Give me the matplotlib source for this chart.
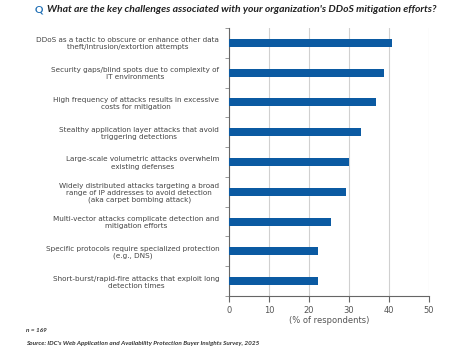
import matplotlib.pyplot as plt
import numpy as np

# Données
categories = [
    "DDoS as a tactic to obscure or enhance other data\ntheft/intrusion/extortion attempts",
    "Security gaps/blind spots due to complexity of\nIT environments",
    "High frequency of attacks results in excessive\ncosts for mitigation",
    "Stealthy application layer attacks that avoid\ntriggering detections",
    "Large-scale volumetric attacks overwhelm\nexisting defenses",
    "Widely distributed attacks targeting a broad\nrange of IP addresses to avoid detection\n(aka carpet bombing attack)",
    "Multi-vector attacks complicate detection and\nmitigation efforts",
    "Specific protocols require specialized protection\n(e.g., DNS)",
    "Short-burst/rapid-fire attacks that exploit long\ndetection times",
]
valeurs = [40.7, 38.8, 36.7, 32.9, 29.9, 29.2, 25.6, 22.3, 22.2]
xticks = [0, 10, 20, 30, 40, 50]

bleu = "#0b5aa2"
gris = "#555555"

fig = plt.figure(figsize=(4.74, 3.55), dpi=100)
ax = fig.add_axes([229 / 474, 1 - 296 / 355, 200 / 474, 268 / 355])

y = np.arange(len(categories))
ax.barh(y, valeurs, height=0.27, color=bleu, zorder=3)

ax.set_xlim(0, 50)
ax.set_ylim(len(categories) - 0.5, -0.5)
ax.set_xticks(xticks)
ax.set_xticklabels([str(t) for t in xticks], fontsize=6, color=gris)
ax.set_yticks(y)
ax.set_yticklabels(categories, fontsize=5.2, color="#444444", ha="right",
                   multialignment="center")
ax.set_yticks(np.arange(-0.5, len(categories), 1), minor=True)
ax.tick_params(axis="y", which="major", length=0, pad=7)
ax.tick_params(axis="y", which="minor", length=3, color="#888888", width=0.6)
ax.tick_params(axis="x", length=4, color="#666666", width=0.8, pad=3)
ax.set_xlabel("(% of respondents)", fontsize=6, color=gris, labelpad=1)

ax.grid(axis="x", color="#d0d0d0", linewidth=0.8, zorder=0)
for s in ["top", "right"]:
    ax.spines[s].set_visible(False)
ax.spines["left"].set_color("#666666")
ax.spines["bottom"].set_color("#666666")
ax.spines["left"].set_linewidth(0.8)
ax.spines["bottom"].set_linewidth(0.8)

# Titre
fig.text(35 / 474, 1 - 10 / 355, "Q", fontsize=7.5, color="#1f6fb5",
         family="Lato", fontweight="bold", va="center", ha="left")
fig.text(47 / 474, 1 - 10 / 355,
         "What are the key challenges associated with your organization's DDoS mitigation efforts?",
         fontsize=7.5, color="#222222", family="Lato", fontweight="bold", style="italic",
         va="center", ha="left")

# Notes
fig.text(26 / 474, 1 - 331 / 355, "n = 169", fontsize=4.6, style="italic",
         family="Lato", fontweight="bold", color="#333333", va="center")
fig.text(26 / 474, 1 - 344 / 355,
         "Source: IDC's Web Application and Availability Protection Buyer Insights Survey, 2025",
         fontsize=4.6, style="italic", family="Lato", fontweight="bold",
         color="#333333", va="center")

fig.savefig("out.png", dpi=100)
